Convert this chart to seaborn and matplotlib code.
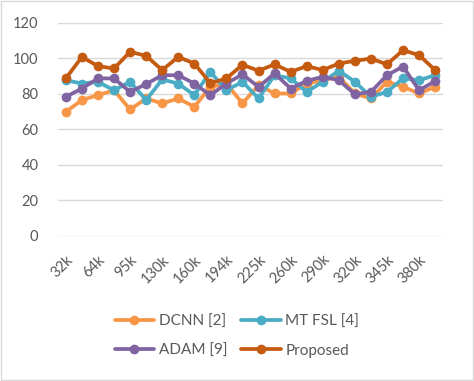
import numpy as np
import pandas as pd
import matplotlib
matplotlib.use("Agg")
import matplotlib.pyplot as plt
import seaborn as sns
from matplotlib.patches import Rectangle
from matplotlib.lines import Line2D

# ---- data ----
tick_labels = ["32k", "64k", "95k", "130k", "160k", "194k",
               "225k", "260k", "290k", "320k", "345k", "380k"]
series_names = ["DCNN [2]", "MT FSL [4]", "ADAM [9]", "Proposed"]
dcnn = [69.9, 76.5, 79.3, 82.0, 71.2, 77.4, 74.6, 77.4, 72.7, 83.9, 85.8, 74.6,
        84.9, 80.2, 80.2, 85.8, 87.7, 89.6, 80.2, 77.4, 86.8, 84.0, 80.2, 84.0]
mt_fsl = [87.7, 85.8, 86.8, 82.0, 86.8, 76.5, 88.1, 85.8, 79.3, 92.4, 82.0, 86.8,
          77.4, 90.5, 88.7, 81.1, 86.8, 93.0, 86.8, 78.3, 81.1, 88.7, 87.7, 90.5]
adam = [78.3, 83.0, 88.7, 88.7, 81.1, 85.5, 90.5, 90.5, 85.8, 79.3, 85.8, 91.0,
        83.9, 91.5, 83.0, 87.3, 89.6, 87.7, 79.8, 81.1, 90.5, 95.4, 82.0, 87.2]
proposed = [88.7, 100.8, 95.6, 94.3, 103.7, 101.4, 93.4, 100.8, 97.1, 86.0, 88.7, 96.4,
            93.0, 96.6, 92.4, 95.6, 93.4, 97.1, 98.6, 99.9, 96.6, 104.6, 101.8, 93.4]
y_ticks = [0, 20, 40, 60, 80, 100, 120]

colors = ["#F79646", "#4BACC6", "#8064A2", "#C55A11"]

sns.set_theme(style="white")
plt.rcParams["font.family"] = ["Lato", "DejaVu Sans"]

frames = []
for name, vals in zip(series_names, [dcnn, mt_fsl, adam, proposed]):
    frames.append(pd.DataFrame({"idx": np.arange(len(vals)), "value": vals, "series": name}))
df = pd.concat(frames, ignore_index=True)

fig = plt.figure(figsize=(4.74, 3.81), dpi=100)
ax = fig.add_axes([0.122, 0.381, 0.813, 0.559])

sns.lineplot(data=df, x="idx", y="value", hue="series", hue_order=series_names,
             palette=colors, marker="o", markersize=7, markeredgewidth=0,
             linewidth=2.7, dashes=False, ax=ax, legend=False)

ax.set_ylim(0, 120)
ax.set_xlim(-0.5, len(dcnn) - 0.5)
ax.set_yticks(y_ticks)
ax.set_yticklabels([str(v) for v in y_ticks])
ax.set_xticks(np.arange(0, len(dcnn), 2))
ax.set_xticklabels(tick_labels, rotation=45, ha="right", rotation_mode="anchor")
ax.tick_params(axis="both", colors="#595959", labelsize=10.5, length=0)
ax.tick_params(axis="y", pad=14)
ax.tick_params(axis="x", pad=12)
ax.grid(axis="y", color="#D9D9D9", linewidth=1)
ax.grid(axis="x", visible=False)
ax.set_xlabel("")
ax.set_ylabel("")
for s in ax.spines.values():
    s.set_visible(False)

handles = [Line2D([], [], color=c, marker="o", markersize=7, markeredgewidth=0, linewidth=2.7)
           for c in colors]
order = [0, 2, 1, 3]
leg = fig.legend([handles[i] for i in order], [series_names[i] for i in order],
                 loc="center", bbox_to_anchor=(0.5, 0.118), ncol=2, frameon=False,
                 fontsize=11, handlelength=2.6, handletextpad=0.3,
                 columnspacing=0.9, labelspacing=1.0)
for t in leg.get_texts():
    t.set_color("#595959")

fig.patches.append(Rectangle((0.002, 0.002), 0.996, 0.996, transform=fig.transFigure,
                             fill=False, edgecolor="#D9D9D9", linewidth=1))

fig.savefig("out.png", dpi=100)
